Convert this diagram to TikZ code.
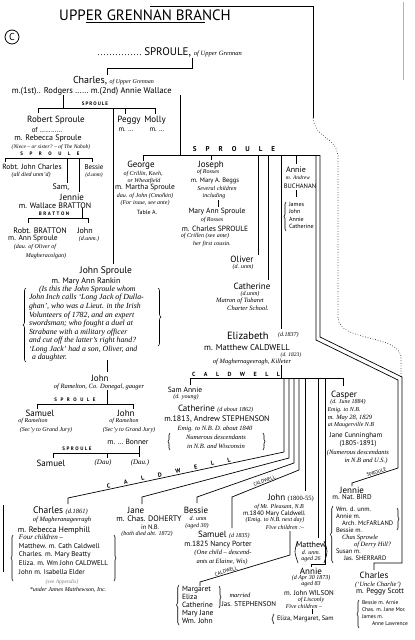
\documentclass[tikz,border=0pt]{standalone}
\usepackage{fontspec}
\setmainfont{Liberation Serif}
\setsansfont{PT Sans}
\usetikzlibrary{decorations.pathreplacing}
\newcommand\fsz[1]{\fontsize{#1}{#1}\selectfont}
\newlength\gapw
\newcommand\gp{\hspace{\gapw}}
\tikzset{
  every node/.style={inner sep=0pt, outer sep=0pt},
  nm/.style={font=\sffamily\fsz{#1}}, nm/.default=9,
  nt/.style={font=\rmfamily\itshape\fsz{#1}}, nt/.default=6,
  bl/.style={font=\sffamily\bfseries\fsz{#1}}, bl/.default=5,
  ln/.style={line width=0.7pt},
  br/.style={decorate, decoration={brace, amplitude=#1}, line width=0.6pt}, br/.default=2pt
}
\begin{document}
\begin{tikzpicture}[x=1pt,y=-1pt]
\fill[white] (0,0) rectangle (415,640);
\useasboundingbox (0,0) rectangle (415,640);

% ---------- title & frame ----------
\node[nm=15] (title) at (145,15) {UPPER GRENNAN BRANCH};
\coordinate (ul1) at (86,22); \coordinate (ul2) at (205,22);
\draw[ln] (ul1) -- (ul2);
\coordinate (bx1) at (150,6); \coordinate (bx2) at (313,6); \coordinate (bx3) at (313,118);
\draw[ln] (bx1) -- (bx2) -- (bx3);
\draw[line width=0.6pt, dotted] (bx3) .. controls (316,140) and (336,136) .. (338,156) -- (338,318) .. controls (340,342) and (396,334) .. (401,356) -- (401,377);
\draw[gray!60, line width=0.4pt] (403,2) -- (403,80);
\draw[line width=0.6pt] (3,505) -- (3,572);
\node[draw, circle, minimum size=14pt, inner sep=0pt, line width=0.8pt, nm=10] (circ) at (12,37) {C};

% ---------- top ----------
\node[anchor=west] (sproule) at (97,52) {\fsz{9}\ldots\ldots\ldots\ldots\ldots\ \sffamily\fsz{11}SPROULE,\ \rmfamily\itshape\fsz{6.5}of Upper Grennan};
\draw[ln] (192,58) -- (192,68) -- (107,68) -- (107,75);
\node[anchor=west] (charles) at (73,81) {\sffamily\fsz{10}Charles,\ \rmfamily\itshape\fsz{6}of Upper Grennan};
\node[nm=8.5, anchor=west] (marr) at (12,91) {m.(1st).. Rodgers \ldots\ldots\ m.(2nd) Annie Wallace};

% first marriage bar
\draw[ln] (63,95) -- (63,108);
\draw[ln] (38,113) -- (38,108) -- (155,108) -- (155,114);
\draw[ln] (125,108) -- (125,114);
\draw[ln] (113,108) -- (113,264);
\node[bl=5] (sp1) at (95,103.5) {\setlength\gapw{1pt}S\gp P\gp R\gp O\gp U\gp L\gp E};

% Robert
\node[nm=9] (robert) at (56,120) {Robert Sproule};
\node[nm=7] (robof) at (47,130) {of \ldots\ldots\ldots\ldots};
\node[nm=8] (rebecca) at (48,138) {m. Rebecca Sproule};
\node[nt=5.5] (niece) at (51,147) {(Niece -- or sister? -- of The Nabob)};
\node[bl=5] (sp2) at (50,154) {\setlength\gapw{6.5pt}S\gp P\gp R\gp O\gp U\gp L\gp E};
\draw[ln] (5,162) -- (5,158) -- (92,158) -- (92,162);
\draw[ln] (67,158) -- (67,183);
\draw[ln] (79,158) -- (79,192);
\node[nm=7.5] (robtjc) at (32,167) {Robt. John Charles};
\node[nt=6] (alldied) at (31,175) {(all died unm'd)};
\node[nm=7] (bessie1) at (94,167) {Bessie};
\node[nt=5.5] (bessie1d) at (94,175) {(d.unm)};
\node[nm=8] (sam1) at (61,187.5) {Sam,};
\node[nm=9] (jennie1) at (72,197) {Jennie};
\node[nm=8] (wbratton) at (55,205.5) {m. Wallace BRATTON};
\draw[ln] (82,208) -- (82,218);
\draw[ln] (28,223) -- (28,218) -- (88,218) -- (88,223);
\node[bl=5] (br1) at (54,214) {\setlength\gapw{1.5pt}B\gp R\gp A\gp T\gp T\gp O\gp N};
\node[nm=8] (rbratton) at (40,231) {Robt. BRATTON};
\node[nm=7.5] (rbm) at (33,239) {m. Ann Sproule};
\node[nt=6] (rbd) at (35,247) {(dau. of Oliver of};
\node[nt=6] (rbm2) at (46,256) {Magheracolgan)};
\node[nm=8] (john1) at (85,231) {John};
\node[nt=6] (john1d) at (89,239) {(d.unm.)};

% Peggy, Molly
\node[nm=9] (peggy) at (129,120) {Peggy};
\node[nm=9] (molly) at (155,120) {Molly};
\node[nm=7] (peggym) at (126,130) {m. \ldots};
\node[nm=7] (mollym) at (157,130) {m. \ldots};

% ---------- second marriage ----------
\draw[ln] (180,95) -- (180,155);
\draw[ln] (143,161) -- (143,155) -- (320,155);
\node[bl=7] (sp3) at (234,149) {\setlength\gapw{9pt}S\gp P\gp R\gp O\gp U\gp L\gp E};

% George
\node[nm=9] (george) at (141,165) {George};
\node[nt=6] (g1) at (143,174) {of Crillin, Keeh,};
\node[nt=6] (g2) at (144,181) {or Wheatfield};
\node[nm=7.5] (g3) at (145,188) {m. Martha Sproule};
\node[nt=6] (g4) at (145,196) {dau. of John (Cmolkin)};
\node[nt=6] (g5) at (145,203.5) {(For issue, see ante)};
\node[nm=6] (g6) at (147,212) {Table A.};

% Joseph
\draw[ln] (211,155) -- (211,160);
\node[nm=9] (joseph) at (211,165) {Joseph};
\node[nt=6] (j1) at (208,172.5) {of Rosses};
\node[nm=6.5] (j2) at (215,180.5) {m. Mary A. Beggs};
\node[nt=6] (j3) at (217,188.5) {Several children};
\node[nt=6] (j4) at (214,196) {including};
\draw[ln] (218,200) -- (218,207);
\node[nm=7.5] (mary) at (217,212) {Mary Ann Sproule};
\node[nt=6] (m1) at (212,220) {of Rosses};
\node[nm=7.5] (m2) at (215,228.5) {m. Charles SPROULE};
\node[nt=6] (m3) at (205,236) {of Crillen (see ante)};
\node[nt=6] (m4) at (212,244) {her first cousin.};

% Oliver, Catherine
\draw[ln] (258,155) -- (258,255);
\draw[ln] (268,155) -- (268,280);
\node[nm=9] (oliver) at (242,259) {Oliver};
\node[nt=6] (o1) at (243,267) {(d. unm)};
\node[nm=9] (cath1) at (252,286) {Catherine};
\node[nt=6] (c1) at (250,294.5) {(d.unm)};
\node[nt=6.5] (c2) at (240,301) {Matron of Tubaret};
\node[nt=6.5] (c3) at (248,308.5) {Charter School.};

% Annie Buchanan
\draw[ln] (296,155) -- (296,164);
\node[nm=8] (annie1) at (296,170) {Annie};
\node[nt=5.5] (a1) at (298,178) {m. Andrew};
\node[nm=6.5] (a2) at (300,186) {BUCHANAN};
\draw[ln] (296,190) -- (296,197);
\node[anchor=north west, align=left, font=\sffamily\fontsize{6}{7.5}\selectfont] (akids) at (289,202) {James\\John\\Annie\\Catherine};
\draw[br=2pt] (286,231) -- (286,202);

% Elizabeth line & right connectors
\draw[ln] (281,155) -- (281,329);
\draw[ln] (316,155) -- (316,340) -- (398,380) -- (398,468) -- (352,483) -- (352,486);
\draw[ln] (320,155) -- (320,337) -- (402,377) -- (402,563) -- (374,563) -- (374,570);

% ---------- John Sproule ----------
\node[nm=9.5] (johns) at (106,271) {John Sproule};
\node[nm=8] (rankin) at (86,281) {m. Mary Ann Rankin};
\node[anchor=north west, align=left, font=\rmfamily\itshape\fontsize{7.8}{8.55}\selectfont] (note) at (29,286) {\hspace{10pt}(Is this the John Sproule whom\\John Inch calls `Long Jack of Dulla-\\ghan', who was a Lieut. in the Irish\\Volunteers of 1782, and an expert\\swordsman; who fought a duel at\\Strabane with a military officer\\and cut off the latter's right hand?\\`Long Jack' had a son, Oliver, and\\\hspace{3pt}a daughter.};
\draw[br=3pt] (26,362) -- (26,288);
\draw[br=3pt] (158,288) -- (158,346);
\draw[ln] (107,360) -- (107,372);
\node[nm=9] (john2) at (100,378) {John};
\node[nt=6.5] (john2a) at (99,387) {of Ramelton, Co. Donegal, gauger};
\draw[ln] (107,390) -- (107,404);
\draw[ln] (37,409) -- (37,404) -- (133,404) -- (133,409);
\node[bl=5] (sp4) at (75,400) {\setlength\gapw{3.5pt}S\gp P\gp R\gp O\gp U\gp L\gp E};
\node[nm=9] (samuel1) at (40,413) {Samuel};
\node[nt=6] (s1a) at (33,421.5) {of Ramelton};
\node[nt=6] (s1b) at (46,430) {(Sec'y to Grand Jury)};
\node[nm=9] (john3) at (126,413) {John};
\node[nt=6] (j3a) at (124,421.5) {of Ramelton};
\node[nt=6] (j3b) at (129,430) {(Sec'y to Grand Jury)};
\node[nm=7.5] (bonner) at (128,442) {m. \ldots\ Bonner};
\draw[ln] (139,446) -- (139,457);
\draw[ln] (53,458) -- (53,453) -- (139,453);
\draw[ln] (107,453) -- (107,458);
\node[bl=5] (sp5) at (77,449) {\setlength\gapw{1.5pt}S\gp P\gp R\gp O\gp U\gp L\gp E};
\node[nm=9] (samuel2) at (51,463) {Samuel};
\node[nt=7] (dau1) at (103,463) {(Dau)};
\node[nt=7] (dau2) at (140,463) {(Dau.)};

% ---------- Elizabeth ----------
\node[nm=10.5, anchor=west] (eliz) at (227,336) {Elizabeth};
\node[nt=6, anchor=west] (elizd) at (278,335) {(d.1837)};
\node[nm=8.5] (matthew) at (247,347.5) {m. Matthew CALDWELL};
\node[nt=5.5] (matthewd) at (291,355) {(d. 1823)};
\node[nt=6.5] (mag) at (252,362) {of Maghernageeragh, Killeter};
\draw[ln] (281,365) -- (281,378);
\draw[ln] (190,385) -- (190,378) -- (343,378) -- (343,386);
\node[bl=6] (cw1) at (236,374) {\setlength\gapw{8.5pt}C\gp A\gp L\gp D\gp W\gp E\gp L\gp L};

\node[nm=7.5] (samannie) at (185,390) {Sam Annie};
\node[nt=6] (samannied) at (186,397.5) {(d. young)};
\node[anchor=west] (cath2) at (178,409) {\sffamily\fsz{9}Catherine \rmfamily\itshape\fsz{6}(d about 1862)};
\node[nm=8] (cath2a) at (217,419.5) {m.1813, Andrew STEPHENSON};
\node[nt=6.5] (cath2b) at (215,428.5) {Emig. to N.B. D. about 1840};
\node[nt=6.5] (cath2c) at (216,437.5) {Numerous descendants};
\node[nt=6.5] (cath2d) at (216,446) {in N.B. and Wisconsin};
\draw[br=2pt] (170,450) -- (170,433);
\draw[br=2pt] (263,433) -- (263,450);

\node[nm=9] (casper) at (344,395) {Casper};
\node[nt=6] (ca1) at (348,402) {(d. June 1884)};
\node[nt=6] (ca2) at (344,410) {Emig. to N.B.};
\node[nt=6.5] (ca3) at (350,418) {m. May 28, 1829};
\node[nt=6] (ca4) at (351,425.5) {at Maugerville N.B};
\node[nm=7] (ca5) at (356,436) {Jane Cunningham};
\node[nm=7] (ca6) at (358,444) {(1805-1891)};
\node[nt=6.5] (ca7) at (358,453) {(Numerous descendants};
\node[nt=6.5] (ca8) at (366,461) {in N.B and U.S.)};

% Caldwell lines
\draw[ln] (284,378) -- (284,452) -- (68,498) -- (68,504);
\path (68,498) -- node[sloped, above=1.5pt, pos=0.47, bl=6] (cw2) {\setlength\gapw{14pt}C\gp A\gp L\gp D\gp W\gp E\gp L\gp L} (284,452);
\draw[ln] (289,378) -- (289,458) -- (142,497) -- (142,504);
\draw[ln] (294,378) -- (294,463) -- (197,497) -- (197,503);
\draw[ln] (299,378) -- (299,470) -- (232,497) -- (232,528);
\path (232,497) -- node[sloped, above=1pt, pos=0.5, nm=5] (cw3) {CALDWELL} (299,470);
\draw[ln] (305,378) -- (305,491);
\draw[ln] (318,378) -- (318,538);
\draw[ln] (325,378) -- (325,564) -- (311,564) -- (311,566.5);

% Charles (d.1861)
\node[anchor=west] (charles2) at (33,511) {\sffamily\fsz{9.5}Charles \rmfamily\itshape\fsz{6.5}(d.1861)};
\node[nt=6.5] (ch2a) at (62,519.5) {of Magheranageeragh};
\node[nm=8] (ch2b) at (54,530) {m. Rebecca Hemphill};
\node[anchor=north west, align=left, font=\sffamily\fontsize{7}{8.8}\selectfont] (ch2kids) at (19,534.5) {\rmfamily\itshape Four children --\\Matthew. m. Cath Caldwell\\Charles. m. Mary Beatty\\Eliza. m. Wm John CALDWELL\\John m. Isabella Elder};
\draw[br=2pt] (13,581) -- (13,535);
\draw[br=2pt] (114,535) -- (114,581);
\node[nt=5.5, text=gray] (ch2c) at (62,582) {(see Appendix)};
\node[nt=6] (ch2d) at (68,589.5) {*under James Matthewson, Inc.};

% Jane, Bessie
\node[nm=9] (jane) at (136,510) {Jane};
\node[nm=8] (janea) at (149,519) {m. Chas. DOHERTY};
\node[nm=6.5] (janeb) at (150,527) {in N.B.};
\node[nt=6] (janec) at (147,534) {(both died abt. 1872)};
\node[nm=9] (bessie2) at (196,510) {Bessie};
\node[nt=6] (bessie2a) at (198,518) {d. unm};
\node[nt=6] (bessie2b) at (197,526) {(aged 30)};

% Samuel (d1835)
\node[anchor=west] (samuel3) at (198,535) {\sffamily\fsz{9}Samuel \rmfamily\itshape\fsz{6}(d 1835)};
\node[nm=7.5] (s3a) at (218,545) {m.1825 Nancy Porter};
\node[nt=6.5] (s3b) at (223,553) {(One child -- descend-};
\node[nt=6.5] (s3c) at (222,561.5) {ants at Elaine, Wis)};

% John (1800-55)
\node[anchor=west] (john4) at (268,498) {\sffamily\fsz{9}John \rmfamily\fsz{6.5}(1800-55)};
\node[nt=6] (j4a) at (279,507) {of Mt. Pleasant, N.B};
\node[nm=6.5] (j4b) at (274,513.5) {m.1840 Mary Caldwell};
\node[nt=6] (j4c) at (275,520.5) {(Emig. to N.B. next day)};
\node[nt=6] (j4d) at (285,527.5) {Five children :--};
\draw[ln] (290,531) -- (290,555) -- (200,582) -- (200,586);
\path (200,582) -- node[sloped, above=1pt, pos=0.3, nm=5] (cw4) {CALDWELL} (290,555);

% Margaret group
\node[anchor=west, align=left, font=\sffamily\fontsize{7.5}{8}\selectfont] (marg) at (182,605) {Margaret\\Eliza\\Catherine\\Mary Jane\\Wm. John};
\draw[br=2.5pt] (179,625) -- (179,585);
\draw[br=2pt] (219,586) -- (219,608);
\node[nt=6.5] (married) at (240,595) {married};
\node[nm=7] (jass) at (249,604) {Jas. STEPHENSON};

% Matthew
\node[nm=8] (matt) at (311,545) {Matthew};
\node[nt=6] (matta) at (311,552) {d. unm.};
\node[nt=6] (mattb) at (311,559) {aged 26};
\draw[line width=0.6pt] (298,541) .. controls (294,551) .. (298,563);
\draw[line width=0.6pt] (324,541) .. controls (328,551) .. (324,563);

% Annie Wilson
\node[nm=9] (annie3) at (311,571) {Annie};
\node[nt=6] (an3a) at (311,578.5) {(d Apr 30 1873)};
\node[nt=6] (an3b) at (311,584.5) {aged 83};
\node[nm=7] (an3c) at (309,593) {m. John WILSON};
\node[nt=6] (an3d) at (311,600) {of Lisconly};
\node[nt=6] (an3e) at (304,606) {Five children --};
\draw[ln] (312,609) -- (312,614);
\node[nm=6.5, anchor=west] (an3f) at (277,619) {Eliza, Margaret, Sam};
\draw[br=2pt] (274,624) -- (274,614);

% Jennie
\path (352,483) -- node[sloped, above=1pt, pos=0.55, nm=5] (sp6) {SPROULE} (398,468);
\node[nm=9] (jennie2) at (352,490) {Jennie};
\node[nm=7] (jen2a) at (352,497.5) {m. Nat. BIRD};
\node[anchor=north west, align=left, font=\sffamily\fontsize{6.5}{7}\selectfont] (jkids) at (336,507) {Wm. d. unm.\\Annie m.\\\hspace{6pt}Arch. McFARLAND\\Bessie m.\\\hspace{6pt}\rmfamily\itshape Chas Sprowle\\\hspace{18pt}\rmfamily\itshape of Derry Hill?\\Susan m.\\\hspace{8pt}Jas. SHERRARD};
\draw[br=2.5pt] (333,563) -- (333,506);
\draw[br=2pt] (397,508) -- (397,530);

% Charles "Uncle Charlie"
\node[nm=9] (charles3) at (374,575.5) {Charles};
\node[nt=6.5] (ch3a) at (378,584.5) {(`Uncle Charlie')};
\node[nm=7.5] (ch3b) at (380,592) {m. Peggy Scott};
\node[anchor=north west, align=left, font=\sffamily\fontsize{5.5}{6.7}\selectfont] (ch3kids) at (362,601) {Bessie m. Arnie\\Chas. m. Jane Mor.\\James m.\\\hspace{10pt}Anne Lawrence};
\draw[br=2pt] (359,628) -- (359,600);
\end{tikzpicture}
\end{document}
